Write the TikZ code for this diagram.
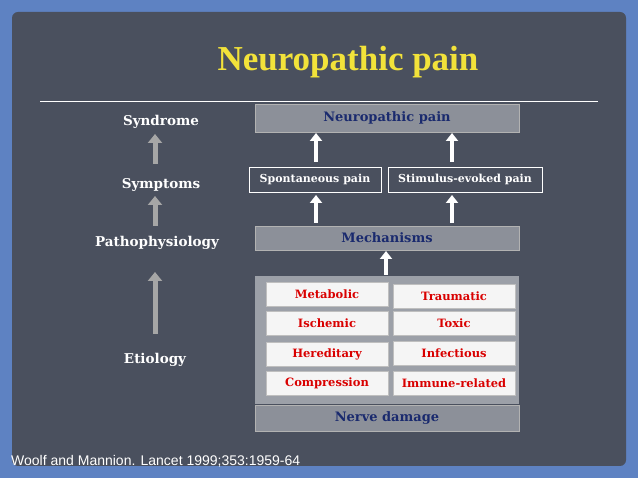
\documentclass[tikz,border=0pt]{standalone}
\usepackage{fontspec}
\setmainfont{Liberation Serif}
\newfontfamily\sfont{Liberation Sans}
\newfontfamily\dserif{DejaVu Serif}
\usetikzlibrary{arrows.meta}
\definecolor{bgblue}{HTML}{5E82C2}
\definecolor{slate}{HTML}{4A505E}
\definecolor{gbox}{HTML}{8C9099}
\definecolor{lbox}{HTML}{9CA0A8}
\definecolor{navy}{HTML}{1A2A6E}
\definecolor{ttl}{HTML}{F2E23A}
\begin{document}
\begin{tikzpicture}[x=1pt,y=-1pt,
 lab/.style={text=white,font=\dserif\bfseries\fontsize{13.5}{15}\selectfont},
 gb/.style={fill=gbox,draw=gray!60,text=navy,font=\dserif\bfseries\fontsize{13}{15}\selectfont},
 db/.style={fill=slate,draw=white!80,text=white,font=\dserif\bfseries\fontsize{11}{13}\selectfont},
 wb/.style={fill=gray!8,draw=gray!50,text=red!85!black,font=\dserif\bfseries\fontsize{11.5}{13}\selectfont},
 wa/.style={draw=white,line width=4pt,-{Triangle[width=12pt,length=8pt]}},
 ga/.style={draw=gray!70,line width=5pt,-{Triangle[width=14pt,length=9pt]}}]
\useasboundingbox (0,0) rectangle (638,478);
\fill[bgblue] (0,0) rectangle (638,478);
\fill[slate,rounded corners=6pt] (12,12) rectangle (626,466);
\node[text=ttl,font=\bfseries\fontsize{35}{40}\selectfont] (title) at (348,62) {Neuropathic pain};
\draw[white!80,line width=0.8pt] (40,101) -- (598,101);
% left
\node[lab] (syn) at (161,122) {Syndrome};
\node[lab] (sym) at (161,185) {Symptoms};
\node[lab] (pat) at (157,243) {Pathophysiology};
\node[lab] (eti) at (155,360) {Etiology};
\coordinate (a1s) at (155,164); \coordinate (a1e) at (155,134);
\coordinate (a2s) at (155,226); \coordinate (a2e) at (155,196);
\coordinate (a3s) at (155,334); \coordinate (a3e) at (155,272);
\draw[ga] (a1s) -- (a1e); \draw[ga] (a2s) -- (a2e); \draw[ga] (a3s) -- (a3e);
% right
\node[gb,minimum width=264pt,minimum height=28pt] (np) at (387,118) {Neuropathic pain};
\node[db,minimum width=132pt,minimum height=25pt] (sp) at (315,179.5) {Spontaneous pain};
\node[db,minimum width=154pt,minimum height=25pt] (se) at (465,179.5) {Stimulus-evoked pain};
\node[gb,minimum width=264pt,minimum height=24pt] (me) at (387,238) {Mechanisms};
\fill[lbox] (255,276) rectangle (519,404);
\node[gb,minimum width=264pt,minimum height=26pt] (nd) at (387,418) {Nerve damage};
\node[wb,minimum width=122pt,minimum height=24pt] (m1) at (327,294) {Metabolic};
\node[wb,minimum width=122pt,minimum height=24pt] (m2) at (454,296) {Traumatic};
\node[wb,minimum width=122pt,minimum height=24pt] (m3) at (327,323) {Ischemic};
\node[wb,minimum width=122pt,minimum height=24pt] (m4) at (454,323) {Toxic};
\node[wb,minimum width=122pt,minimum height=24pt] (m5) at (327,354) {Hereditary};
\node[wb,minimum width=122pt,minimum height=24pt] (m6) at (454,353) {Infectious};
\node[wb,minimum width=122pt,minimum height=24pt] (m7) at (327,383) {Compression};
\node[wb,minimum width=122pt,minimum height=24pt] (m8) at (454,383) {Immune-related};
\draw[wa] (316,162) -- (316,133);
\draw[wa] (452,162) -- (452,133);
\draw[wa] (316,223) -- (316,195);
\draw[wa] (452,223) -- (452,195);
\draw[wa] (386,275) -- (386,251);
\node[anchor=south west,text=white,font=\sfont\fontsize{14}{16}\selectfont,inner sep=1pt] (ref) at (10,468) {Woolf and Mannion. Lancet 1999;353:1959-64};
\end{tikzpicture}
\end{document}
